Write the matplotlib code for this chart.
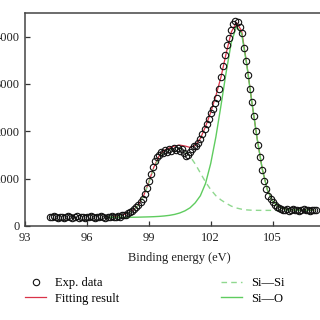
import numpy as np
from matplotlib import pyplot as plt

plt.rcParams['font.family'] = ['Liberation Serif', 'DejaVu Serif']

# experimental points, 0.1 eV step
energy = np.round(np.arange(94.2, 107.15, 0.1), 2)
counts = [195, 180, 205, 190, 175, 200, 185, 170, 195, 210,
          180, 165, 190, 205, 175, 185, 200, 170, 180, 195,
          210, 185, 170, 190, 200, 215, 185, 175, 195, 180,
          205, 190, 200,
          215, 200, 225, 240, 230, 265, 290, 320, 350, 400,
          440, 500, 580, 680, 800, 950, 1090, 1240, 1370, 1450,
          1510, 1560, 1540, 1600, 1570, 1620, 1590, 1640, 1600, 1650,
          1580, 1620, 1540, 1480, 1500, 1570, 1620, 1680, 1700, 1760,
          1830, 1950, 2050, 2150, 2270, 2390, 2480, 2600, 2700, 2900,
          3150, 3380, 3620, 3820, 3980, 4150, 4260, 4330, 4310, 4200,
          4080, 3750, 3480, 3180, 2900, 2620, 2320, 2000, 1720, 1460,
          1180, 950, 780, 640, 560, 500, 440, 400, 370, 350,
          345, 330, 350, 320, 340, 355, 330, 345, 325, 340,
          350, 330, 345, 320, 340, 335, 330]

# fitted curves, 0.25 eV step
fit_x = np.arange(97.0, 107.01, 0.25)
fit_total = [195, 200, 210, 235, 275, 340, 450, 640, 930, 1250,
             1480, 1600, 1650, 1690, 1710, 1690, 1660, 1700, 1850, 2100,
             2400, 2750, 3150, 3650, 4100, 4300, 4120, 3420, 2600, 1850,
             1200, 760, 530, 420, 370, 350, 340, 338, 336, 335, 335]
si_si = [195, 200, 210, 232, 270, 335, 440, 630, 910, 1220,
         1440, 1560, 1610, 1640, 1640, 1580, 1470, 1310, 1120, 930,
         770, 640, 550, 480, 420, 380, 355, 340, 333, 331,
         330, 330, 330, 330, 330, 330, 330, 330, 330, 330, 330]
si_o = [180, 180, 181, 182, 183, 185, 187, 190, 193, 197,
        203, 212, 225, 245, 275, 320, 385, 490, 640, 900,
        1320, 1880, 2550, 3250, 3880, 4220, 4060, 3400, 2600, 1850,
        1200, 760, 530, 420, 370, 350, 340, 338, 336, 335, 335]

fig = plt.figure(figsize=(3.2, 3.2), dpi=100)
ax = fig.add_axes([25 / 320, 1 - 226 / 320, 309.5 / 320, 213 / 320])

l_fit, = ax.plot(fit_x, fit_total, color='#d93348', lw=0.9, label='Fitting result')
l_sisi, = ax.plot(fit_x, si_si, color='#8fd88f', lw=1.0, ls=(0, (4, 3)), label='Si\u2014Si')
l_sio, = ax.plot(fit_x, si_o, color='#5fcc5f', lw=1.0, label='Si\u2014O')
l_exp, = ax.plot(energy, counts, 'o', ms=4.6, mfc='none', mec='#111111', mew=0.8,
                 label='Exp. data')

ax.set_xlim(93, 108)
ax.set_ylim(0, 4500)
ax.set_xticks([93, 96, 99, 102, 105])
ax.set_yticks([0, 1000, 2000, 3000, 4000])
ax.tick_params(direction='in', length=3.5, width=0.9, labelsize=9,
               colors='#333333', labelcolor='#222222', pad=4)
for s in ax.spines.values():
    s.set_color('#444444')
    s.set_linewidth(1.1)
ax.set_xlabel('Binding energy (eV)', fontsize=9, color='#222222', labelpad=6)

fig.legend(handles=[l_exp, l_fit], loc='upper left', bbox_to_anchor=(25 / 320, 1 - 277 / 320),
           frameon=False, fontsize=9, borderpad=0, borderaxespad=0,
           handlelength=1.7, handletextpad=0.7, labelspacing=0.3)
fig.legend(handles=[l_sisi, l_sio], loc='upper left', bbox_to_anchor=(221 / 320, 1 - 277 / 320),
           frameon=False, fontsize=9, borderpad=0, borderaxespad=0,
           handlelength=1.7, handletextpad=0.7, labelspacing=0.3)

fig.savefig('out.png', dpi=100)
